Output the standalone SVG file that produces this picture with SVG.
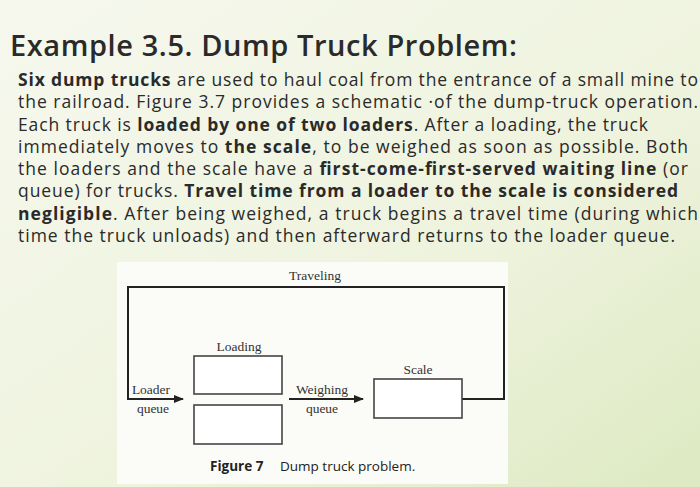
<svg xmlns="http://www.w3.org/2000/svg" width="700" height="487" viewBox="0 0 700 487">
<defs>
<linearGradient id="bg" x1="0" y1="0" x2="1" y2="1"><stop offset="0" stop-color="#f6f8ee"/><stop offset="0.6" stop-color="#eef3dd"/><stop offset="1" stop-color="#dde9c2"/></linearGradient>
<marker id="ah" markerWidth="10" markerHeight="8" refX="9" refY="4" orient="auto" markerUnits="userSpaceOnUse"><path d="M0,0 L10,4 L0,8 z" fill="#222"/></marker>
<style>
.t{font-family:"Open Sans","Liberation Sans",sans-serif;fill:#2a2a2a}
.b{font-size:17.5px}
.s{font-family:"Liberation Serif",serif;font-size:13.5px;fill:#333;text-anchor:middle}
.box{fill:#fff;stroke:#444;stroke-width:1.6}
.ln{fill:none;stroke:#222;stroke-width:2}
</style>
</defs>
<rect width="700" height="487" fill="url(#bg)"/>
<text class="t" x="10" y="56" font-size="29" font-weight="600" textLength="507">Example 3.5. Dump Truck Problem:</text>
<g class="t b">
<text x="18" y="86" textLength="680"><tspan font-weight="bold">Six dump trucks</tspan> are used to haul coal from the entrance of a small mine to</text>
<text x="18" y="108" textLength="680">the railroad. Figure 3.7 provides a schematic  ·of the dump-truck operation.</text>
<text x="18" y="131" textLength="630">Each truck is <tspan font-weight="bold">loaded by one of two loaders</tspan>. After a loading, the truck</text>
<text x="18" y="153" textLength="670">immediately moves to <tspan font-weight="bold">the scale</tspan>, to be weighed as soon as possible. Both</text>
<text x="18" y="175" textLength="670">the loaders and the scale have a <tspan font-weight="bold">first-come-first-served waiting line</tspan> (or</text>
<text x="18" y="197" textLength="660">queue) for trucks. <tspan font-weight="bold">Travel time from a loader to the scale is considered</tspan></text>
<text x="18" y="220" textLength="680"><tspan font-weight="bold">negligible</tspan>. After being weighed, a truck begins a travel time (during which</text>
<text x="18" y="242" textLength="657">time the truck unloads) and then afterward returns to the loader queue.</text>
</g>
<rect x="117" y="262" width="391" height="222" fill="#fbfcf8"/>
<g id="connectors">
<path class="ln" d="M462,399 H504 V287 H128 V399 H183" marker-end="url(#ah)"/>
<path class="ln" d="M289,399 H363" marker-end="url(#ah)"/>
</g>
<g id="loader1"><rect class="box" x="194" y="356" width="88" height="38"/><text class="s" x="239" y="351">Loading</text></g>
<g id="loader2"><rect class="box" x="194" y="405" width="88" height="39"/></g>
<g id="scale"><rect class="box" x="374" y="379" width="88" height="39"/><text class="s" x="418" y="374">Scale</text></g>
<g id="labels">
<text class="s" x="151" y="394">Loader</text>
<text class="s" x="153" y="413">queue</text>
<text class="s" x="322" y="394">Weighing</text>
<text class="s" x="322" y="413">queue</text>
<text class="s" x="315" y="280">Traveling</text>
</g>
<text y="471" font-family="'Open Sans','Liberation Sans',sans-serif" font-size="13.5" fill="#222"><tspan x="210" font-weight="bold">Figure 7</tspan><tspan x="280">Dump truck problem.</tspan></text>
</svg>
